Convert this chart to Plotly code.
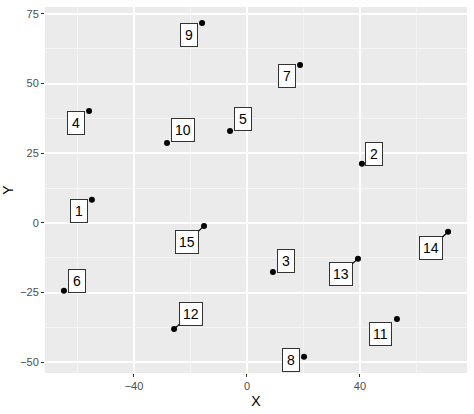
import plotly.graph_objects as go

# point data
labels = [str(i) for i in range(1, 16)]
x_vals = [-54.9, 40.7, 9.2, -55.9, -6.0, -64.8, 18.8, 20.2, -15.9, -28.3, 53.1, -25.8, 39.3, 71.2, -15.2]
y_vals = [8.3, 21.2, -17.6, 40.2, 33.0, -24.4, 56.7, -48.1, 71.8, 28.7, -34.5, -38.1, -12.9, -3.2, -1.1]

# label offsets in pixels (repel-style placement), +y is down
offsets = [(-13, 11), (12, -10), (13, -11), (-13, 12), (13, -12), (13, -10), (-13, 11), (-13, 3),
           (-13, 12), (16, -13), (-16, 15), (17, -15), (-17, 15), (-17, 16), (-17, 16)]
segments = [False, False, False, False, False, False, False, False,
            False, False, False, True, True, True, True]

fig = go.Figure(go.Scatter(
    x=x_vals, y=y_vals, mode='markers',
    marker=dict(color='black', size=6),
    showlegend=False, hoverinfo='skip'
))

annotations = []
for lab, x, y, (dx, dy), seg in zip(labels, x_vals, y_vals, offsets, segments):
    annotations.append(dict(
        x=x, y=y, text=lab, showarrow=True,
        ax=dx, ay=dy, arrowhead=0, arrowwidth=1.2,
        arrowcolor='black' if seg else 'rgba(0,0,0,0)',
        font=dict(family='Liberation Sans, Arial', size=14, color='black'),
        width=10 if len(lab) == 1 else None,
        bgcolor='white', bordercolor='#333333', borderwidth=1, borderpad=3,
    ))

axis_common = dict(
    showgrid=True, gridcolor='white', gridwidth=1.6,
    zeroline=False, showline=False, automargin=False,
    ticks='outside', ticklen=3, tickcolor='#333333', tickwidth=1,
    tickfont=dict(family='Liberation Sans, Arial', size=11, color='#4D4D4D'),
)

fig.update_layout(
    width=474, height=414,
    margin=dict(l=45, r=7, t=7, b=41),
    plot_bgcolor='#EBEBEB', paper_bgcolor='white',
    annotations=annotations,
    xaxis=dict(axis_common, range=[-71.5, 77.9], tickvals=[-40, 0, 40],
               minor=dict(showgrid=True, gridcolor='#F4F4F4', gridwidth=0.8, tickvals=[-60, -20, 20, 60], ticks=''),
               title=dict(text='X', font=dict(family='Liberation Sans, Arial', size=14, color='black'), standoff=4)),
    yaxis=dict(axis_common, range=[-53.9, 77.5], tickvals=[-50, -25, 0, 25, 50, 75],
               minor=dict(showgrid=True, gridcolor='#F4F4F4', gridwidth=0.8, tickvals=[-37.5, -12.5, 12.5, 37.5, 62.5], ticks=''),
               title=dict(text='Y', font=dict(family='Liberation Sans, Arial', size=14, color='black'), standoff=6)),
)

config = {'displayModeBar': False}

fig.write_html("out.html", config=config, post_script="document.body.style.margin='0';")
